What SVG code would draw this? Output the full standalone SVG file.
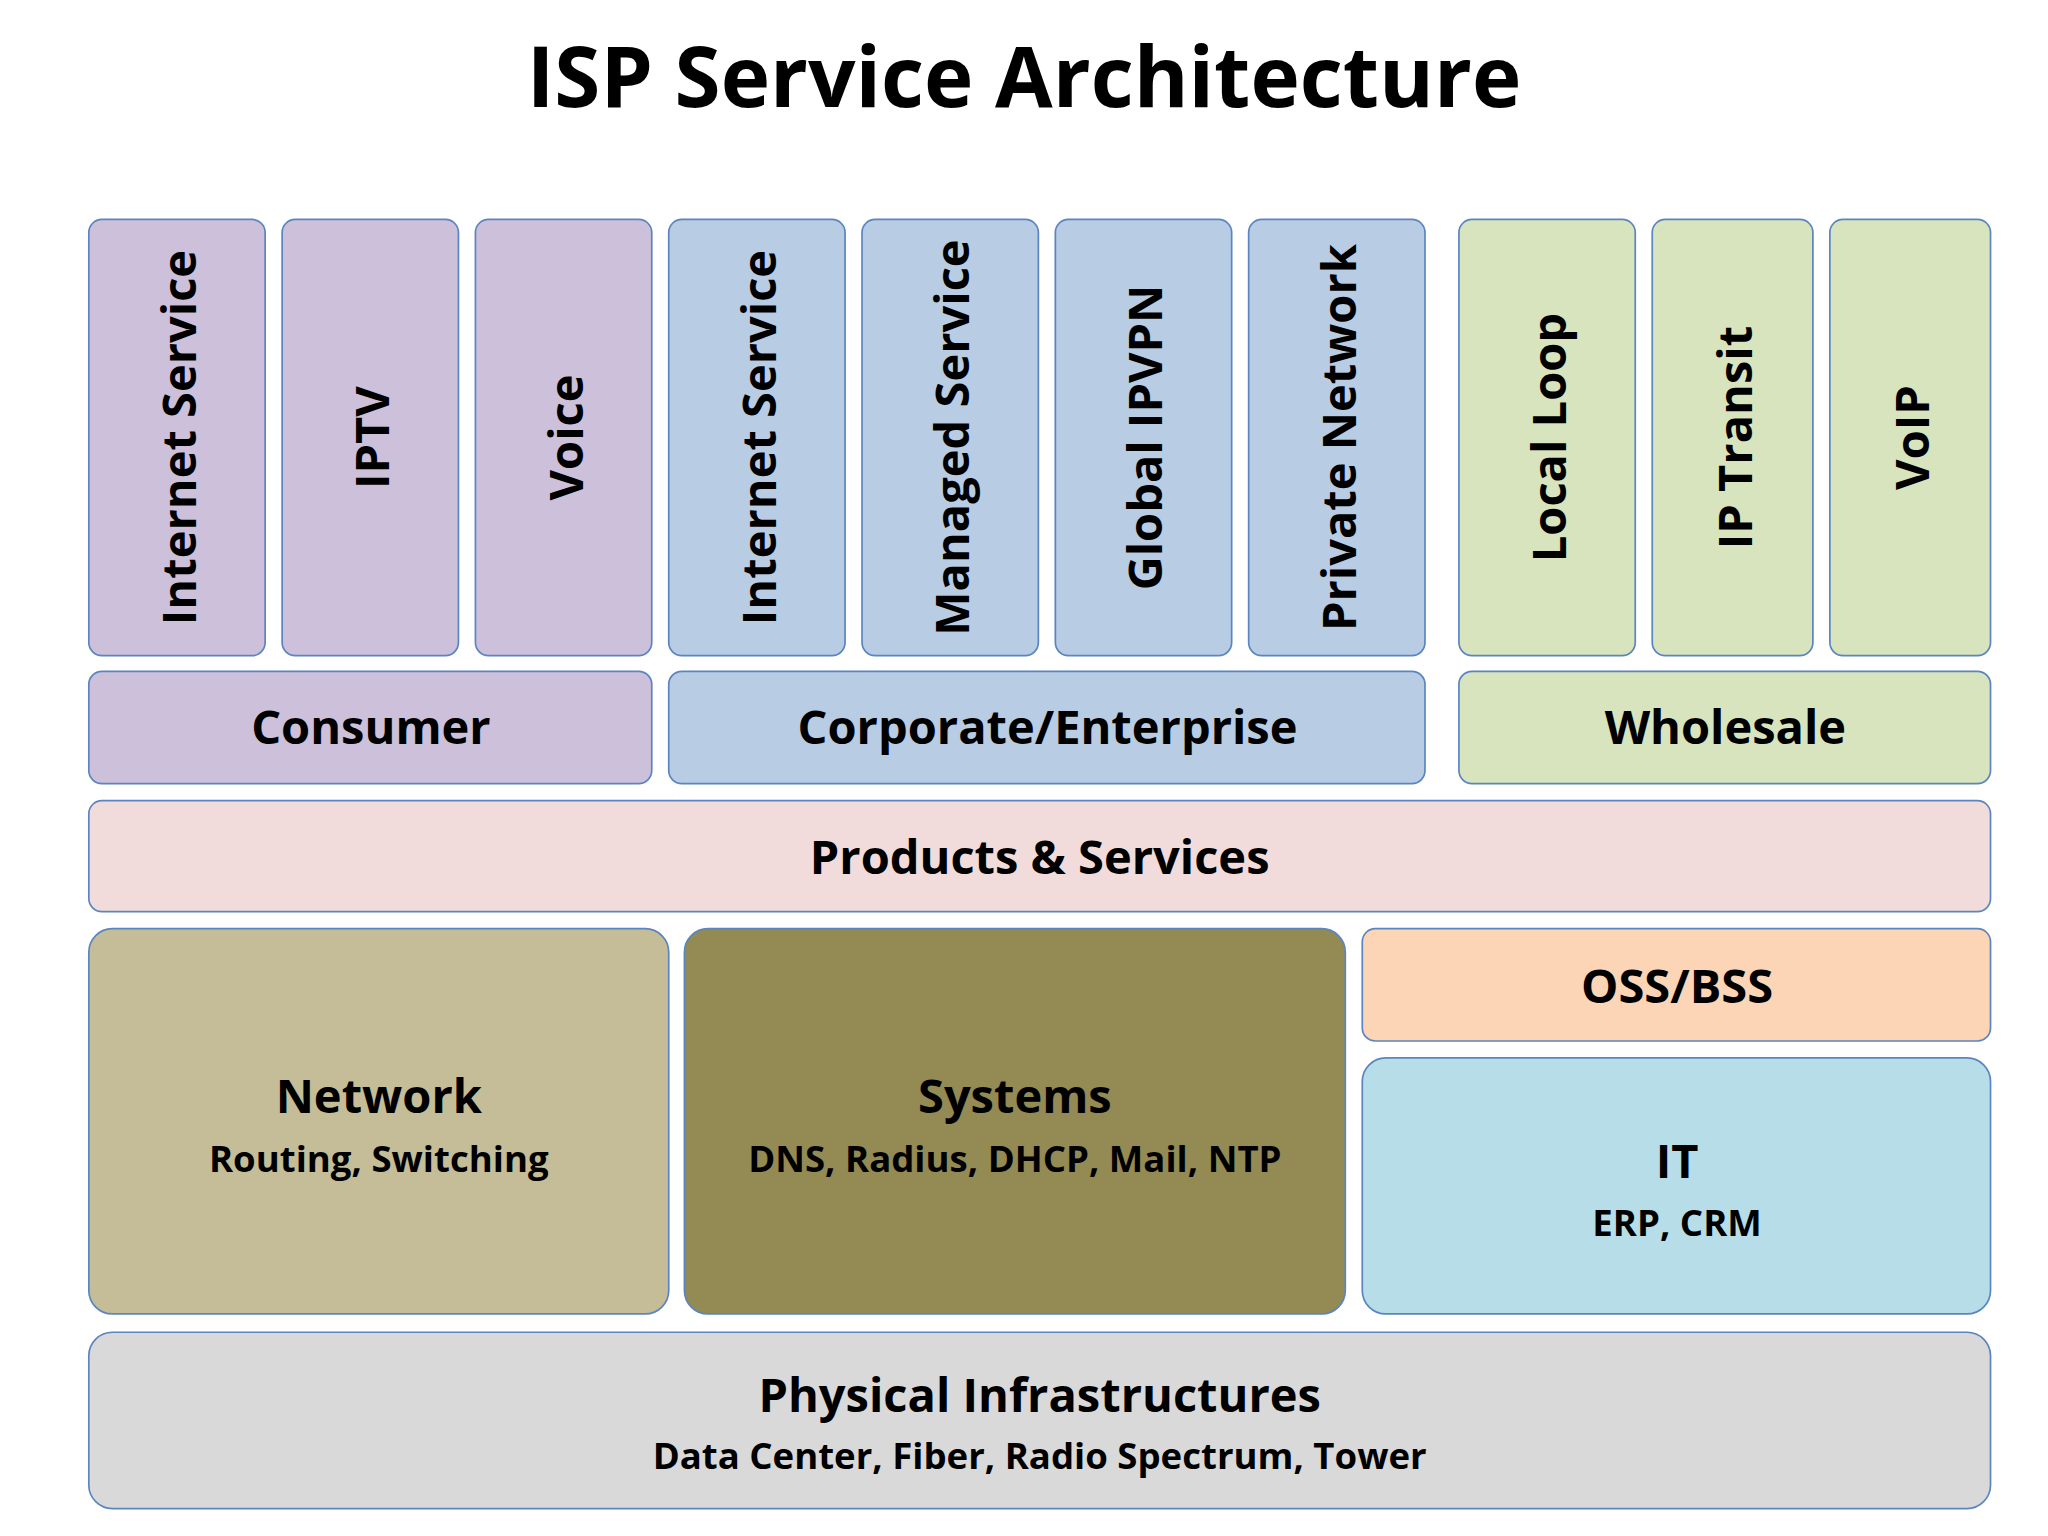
<svg xmlns="http://www.w3.org/2000/svg" width="2048" height="1536" viewBox="0 0 2048 1536">
<style>
text{font-family:"Open Sans","Liberation Sans",sans-serif;font-weight:bold;fill:#000;text-anchor:middle}
.b{stroke:#5b85c0;stroke-width:1.3}
.v{font-size:36px}
.h{font-size:36px}
.s{font-size:28px}
.p{fill:#ccc0da}.c{fill:#b8cce4}.g{fill:#d7e4bd}
</style>
<rect width="2048" height="1536" fill="#fff"/>
<g transform="scale(1.30612)">
<text x="784" y="82" style="font-size:64px">ISP Service Architecture</text>
<g id="cons-internet"><rect class="b p" x="68" y="168" width="135" height="334" rx="10"/><text class="v" transform="translate(150,335) rotate(-90)">Internet Service</text></g>
<g id="iptv"><rect class="b p" x="216" y="168" width="135" height="334" rx="10"/><text class="v" transform="translate(298,335) rotate(-90)">IPTV</text></g>
<g id="voice"><rect class="b p" x="364" y="168" width="135" height="334" rx="10"/><text class="v" transform="translate(446,335) rotate(-90)">Voice</text></g>
<g id="corp-internet"><rect class="b c" x="512" y="168" width="135" height="334" rx="10"/><text class="v" transform="translate(594,335) rotate(-90)">Internet Service</text></g>
<g id="managed"><rect class="b c" x="660" y="168" width="135" height="334" rx="10"/><text class="v" transform="translate(742,335) rotate(-90)">Managed Service</text></g>
<g id="ipvpn"><rect class="b c" x="808" y="168" width="135" height="334" rx="10"/><text class="v" transform="translate(890,335) rotate(-90)">Global IPVPN</text></g>
<g id="private"><rect class="b c" x="956" y="168" width="135" height="334" rx="10"/><text class="v" transform="translate(1038,335) rotate(-90)">Private Network</text></g>
<g id="localloop"><rect class="b g" x="1117" y="168" width="135" height="334" rx="10"/><text class="v" transform="translate(1199,335) rotate(-90)">Local Loop</text></g>
<g id="iptransit"><rect class="b g" x="1265" y="168" width="123" height="334" rx="10"/><text class="v" transform="translate(1341,335) rotate(-90)">IP Transit</text></g>
<g id="voip"><rect class="b g" x="1401" y="168" width="123" height="334" rx="10"/><text class="v" transform="translate(1477,335) rotate(-90)">VoIP</text></g>
<g id="consumer"><rect class="b p" x="68" y="514" width="431" height="86" rx="10"/><text class="h" x="284" y="570">Consumer</text></g>
<g id="corporate"><rect class="b c" x="512" y="514" width="579" height="86" rx="10"/><text class="h" x="802" y="570">Corporate/Enterprise</text></g>
<g id="wholesale"><rect class="b g" x="1117" y="514" width="407" height="86" rx="10"/><text class="h" x="1321" y="570">Wholesale</text></g>
<g id="products"><rect class="b" fill="#f2dcdb" x="68" y="613" width="1456" height="85" rx="10"/><text class="h" x="796" y="669">Products &amp; Services</text></g>
<g id="network"><rect class="b" fill="#c4bd97" x="68" y="711" width="444" height="295" rx="18"/><text class="h" x="290" y="852">Network</text><text class="s" x="290" y="897">Routing, Switching</text></g>
<g id="systems"><rect class="b" fill="#948a54" x="524" y="711" width="506" height="295" rx="18"/><text class="h" x="777" y="852">Systems</text><text class="s" x="777" y="897">DNS, Radius, DHCP, Mail, NTP</text></g>
<g id="ossbss"><rect class="b" fill="#fbd5b5" x="1043" y="711" width="481" height="86" rx="10"/><text class="h" x="1284" y="768">OSS/BSS</text></g>
<g id="it"><rect class="b" fill="#b7dee8" x="1043" y="810" width="481" height="196" rx="18"/><text class="h" x="1284" y="902">IT</text><text class="s" x="1284" y="946">ERP, CRM</text></g>
<g id="physical"><rect class="b" fill="#d9d9d9" x="68" y="1020" width="1456" height="135" rx="18"/><text class="h" x="796" y="1081">Physical Infrastructures</text><text class="s" x="796" y="1125">Data Center, Fiber, Radio Spectrum, Tower</text></g>
<g id="connectors"/>
</g>
</svg>
